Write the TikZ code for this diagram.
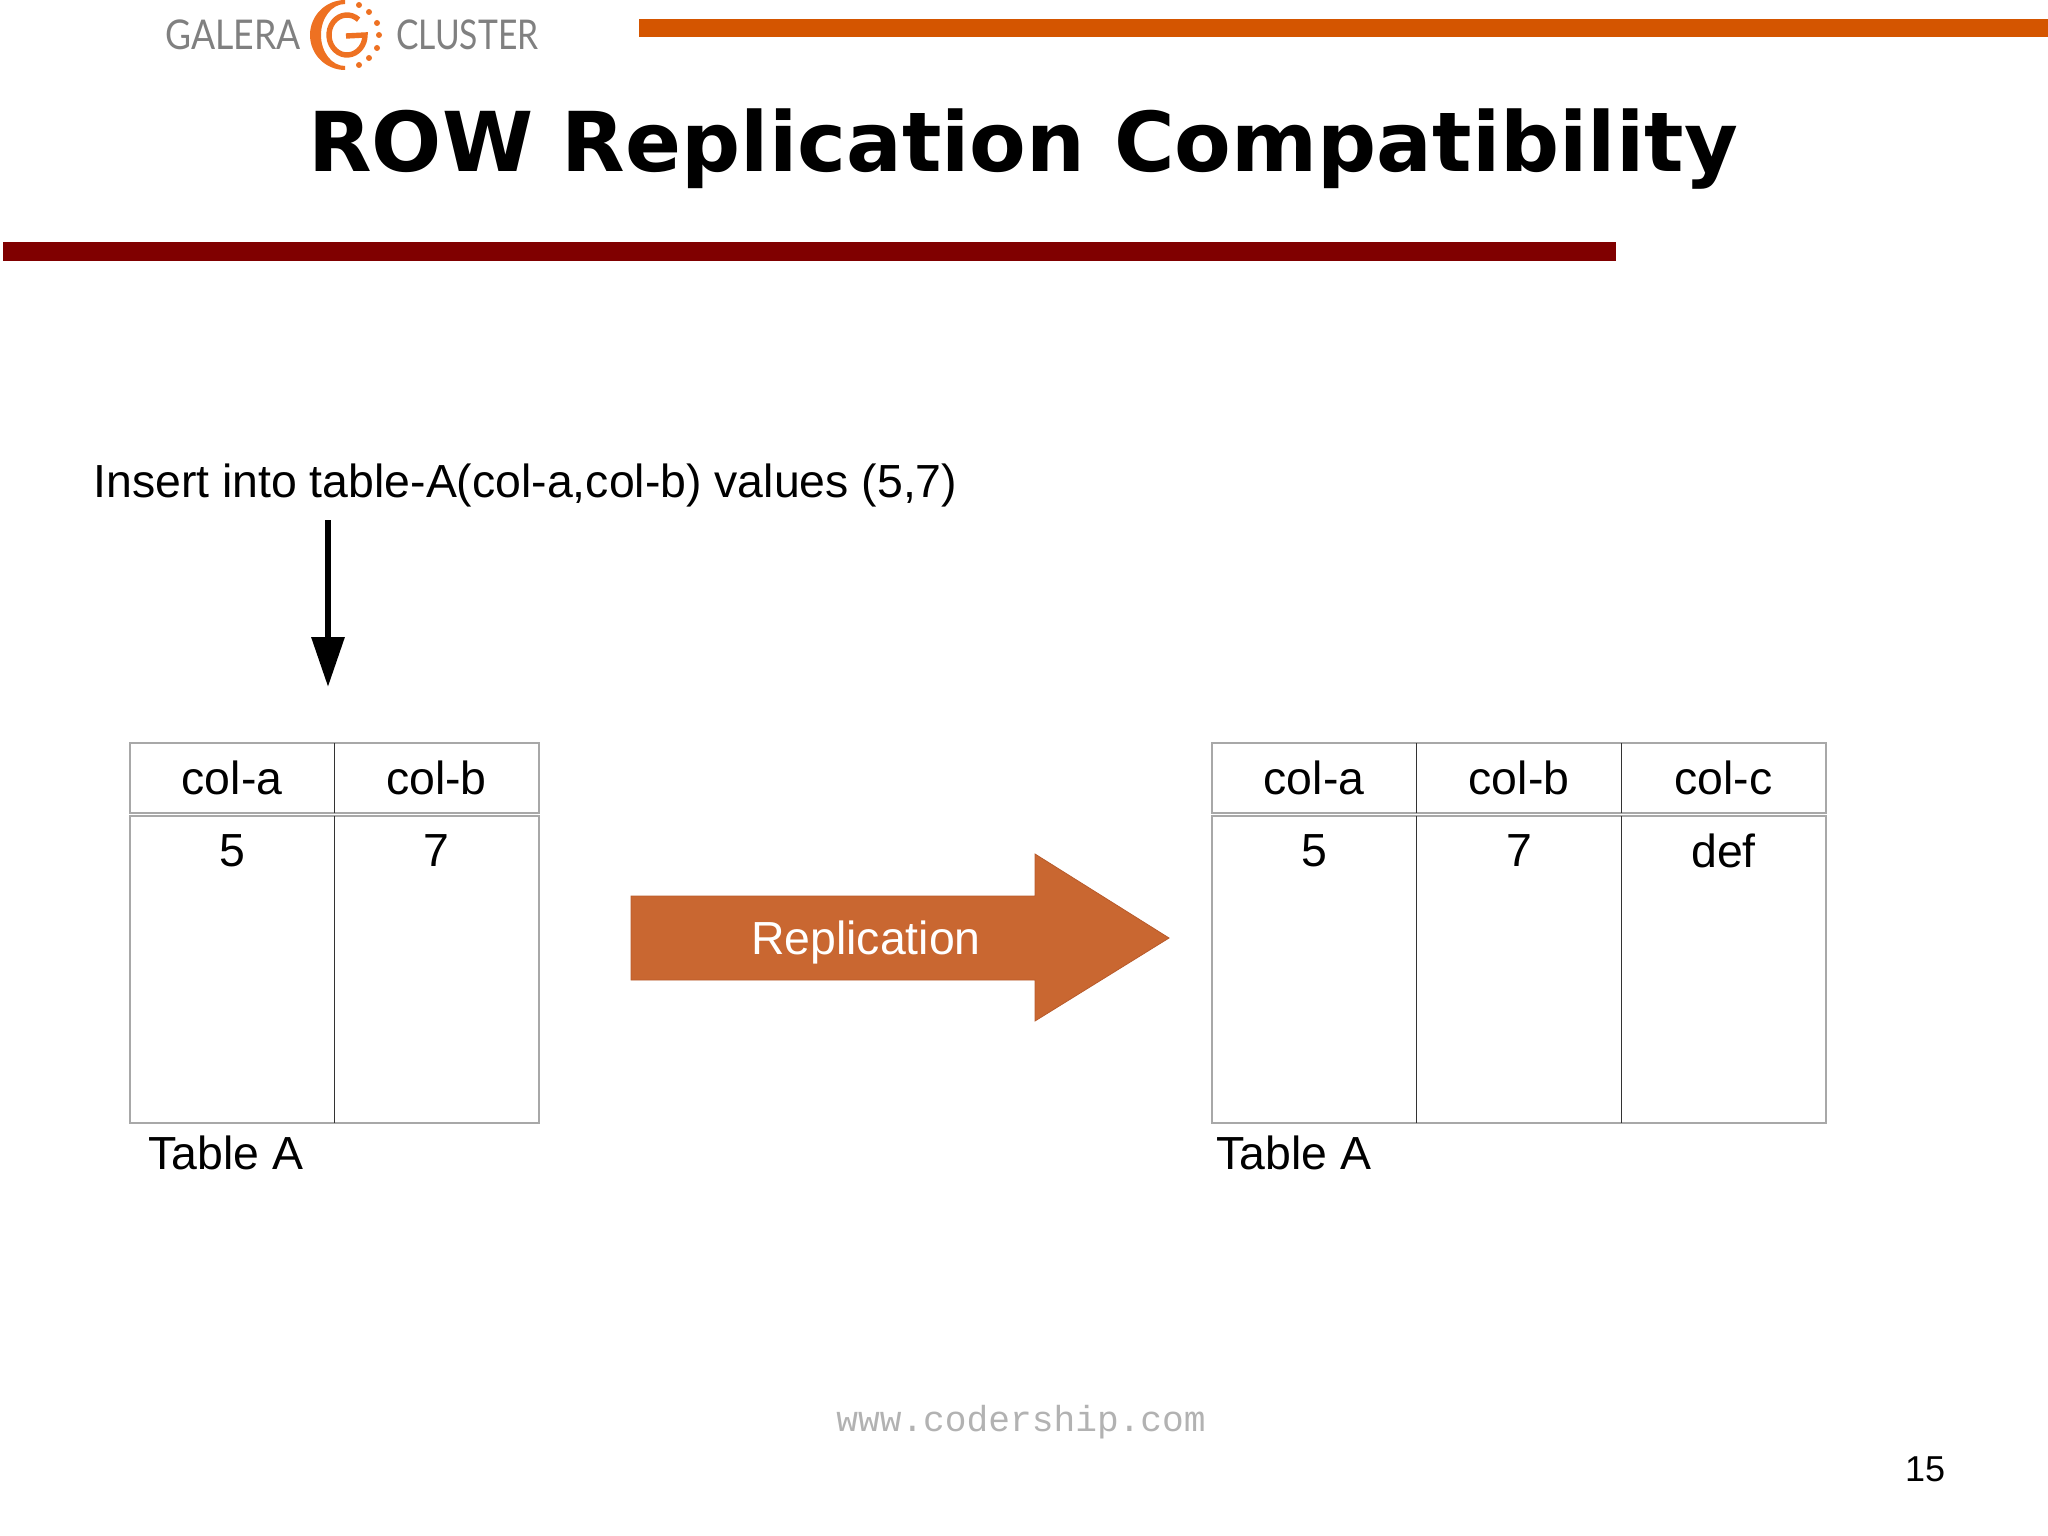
\documentclass[tikz,border=0pt]{standalone}
\usepackage{fontspec}
\setmainfont{Liberation Sans}
\newfontfamily\titlefont{DejaVu Sans}
\newfontfamily\footfont{Liberation Mono}
\newfontfamily\logofont{Lato}
\usetikzlibrary{arrows.meta}
\definecolor{barorange}{HTML}{D45500}
\definecolor{barred}{HTML}{800000}
\definecolor{arroworange}{HTML}{C96731}
\definecolor{arrowedge}{HTML}{B85A2A}
\definecolor{logoorange}{HTML}{EE7122}
\definecolor{cellgray}{HTML}{A8A8A8}
\tikzset{
  cell/.style={draw=cellgray,line width=.7pt,fill=white},
  rule/.style={draw=black!80,line width=.5pt},
  txt/.style={font=\fontsize{23.2}{23.2}\selectfont,text=black,inner sep=0pt},
  logotxt/.style={font=\logofont\fontsize{20.5}{20.5}\selectfont,text=black!50,inner sep=0pt,transform shape},
  dot/.style={circle,fill=logoorange,inner sep=0pt,minimum width=3pt}
}
\begin{document}
\begin{tikzpicture}[x=.5pt,y=-.5pt]
  \useasboundingbox (0,0) rectangle (2048,1535);
  % bars
  \fill[barorange] (639,19) rectangle (2048,37);
  \fill[barred] (3,242) rectangle (1616,261);
  % logo
  \node[logotxt,xscale=.87,anchor=base west] (galera) at (165,50) {GALERA};
  \node[logotxt,xscale=.82,anchor=base west] (cluster) at (396,50) {CLUSTER};
  \fill[logoorange] (345,0) arc (-90:-270:35) -- (345,66) arc [start angle=-270,end angle=-90,x radius=24,y radius=31] -- cycle;
  \draw[logoorange,line width=2.7pt] (347,35) ++(-50:18 and 20) arc [start angle=-50,end angle=-360,x radius=18,y radius=20] -- (346,36);
  \node[dot] (d1) at (359,5) {};
  \node[dot] (d2) at (369,12) {};
  \node[dot] (d3) at (377,23) {};
  \node[dot] (d4) at (379,35) {};
  \node[dot] (d5) at (377,48) {};
  \node[dot] (d6) at (369,58) {};
  \node[dot] (d7) at (359,65) {};
  % title
  \node[font=\titlefont\bfseries\fontsize{41.3}{41.3}\selectfont,inner sep=0pt,anchor=base] (title) at (1023,172) {ROW Replication Compatibility};
  % statement
  \node[txt,anchor=base west] (stmt) at (93,497) {Insert into table-A(col-a,col-b) values (5,7)};
  \coordinate (arrowtop) at (328,520);
  \coordinate (arrowend) at (328,687);
  \draw[line width=3.2pt,-{Triangle[length=25pt,width=16pt]}] (arrowtop) -- (arrowend);
  % left table
  \draw[cell] (130,743) rectangle (539,813);
  \draw[cell] (130,816) rectangle (539,1123);
  \draw[rule] (334.5,743) -- (334.5,813);
  \draw[rule] (334.5,816) -- (334.5,1123);
  \node[txt] (la) at (232,778) {col-a};
  \node[txt] (lb) at (436.5,778) {col-b};
  \node[txt] (l5) at (232,851) {5};
  \node[txt] (l7) at (436.5,851) {7};
  \node[txt,anchor=base west] (ltab) at (148,1169) {Table A};
  % right table
  \draw[cell] (1212,743) rectangle (1826,813);
  \draw[cell] (1212,816) rectangle (1826,1123);
  \draw[rule] (1416.5,743) -- (1416.5,813);
  \draw[rule] (1621,743) -- (1621,813);
  \draw[rule] (1416.5,816) -- (1416.5,1123);
  \draw[rule] (1621,816) -- (1621,1123);
  \node[txt] (ra) at (1314,778) {col-a};
  \node[txt] (rb) at (1519,778) {col-b};
  \node[txt] (rc) at (1723.5,778) {col-c};
  \node[txt] (r5) at (1314,851) {5};
  \node[txt] (r7) at (1519,851) {7};
  \node[txt] (rd) at (1723.5,851) {def};
  \node[txt,anchor=base west] (rtab) at (1216,1169) {Table A};
  % replication arrow
  \filldraw[fill=arroworange,draw=arrowedge,line width=.4pt] (631,896) -- (1035,896) -- (1035,854) -- (1169,938) -- (1035,1021) -- (1035,980) -- (631,980) -- cycle;
  \node[txt,text=white,anchor=base] (repl) at (866,954) {Replication};
  % footer
  \node[font=\footfont\fontsize{18.1}{18.1}\selectfont,text=black!30,inner sep=0pt,anchor=base] (site) at (1021,1431) {www.codership.com};
  \node[font=\fontsize{18}{18}\selectfont,inner sep=0pt,anchor=base] (page) at (1925,1481) {15};
\end{tikzpicture}
\end{document}
